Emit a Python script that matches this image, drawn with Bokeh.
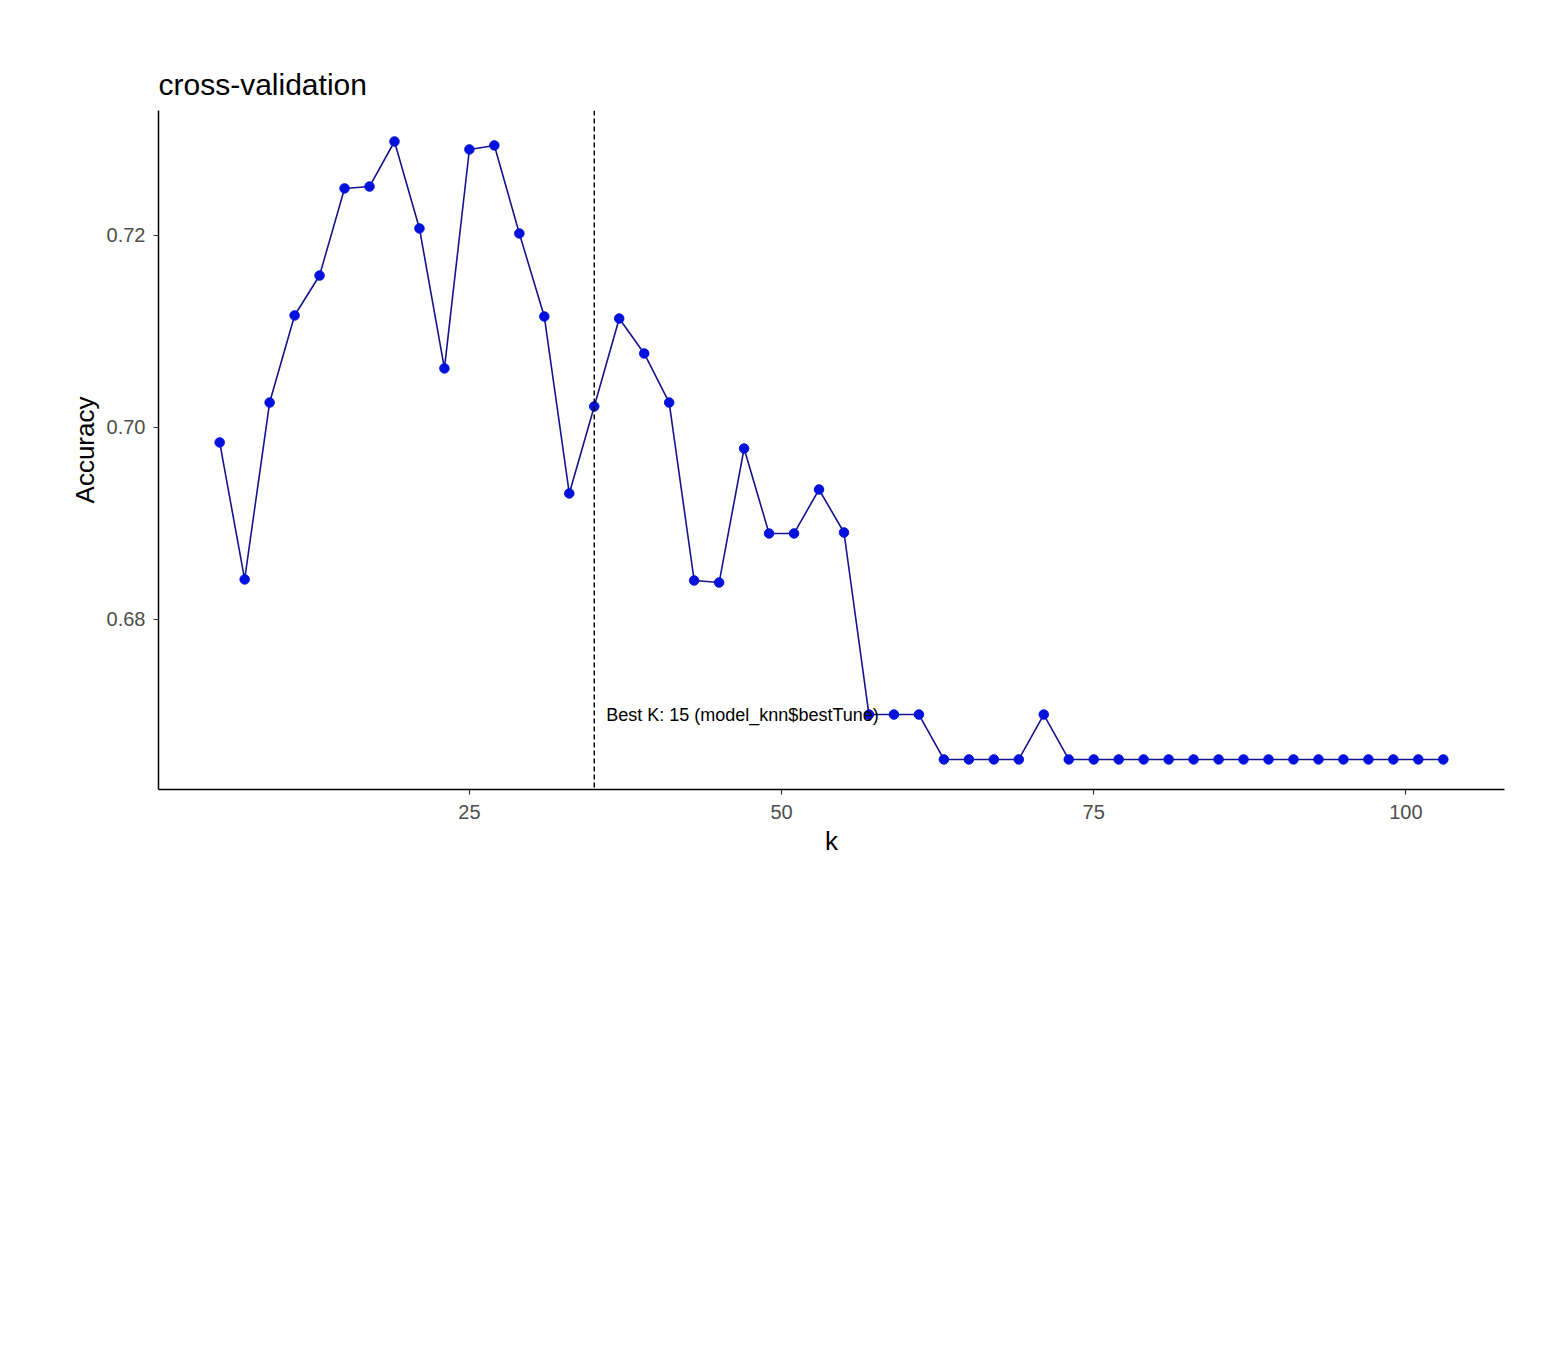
from bokeh.plotting import figure
from bokeh.models import Span, Label, FixedTicker, Range1d
from bokeh.embed import file_html
from bokeh.resources import INLINE

k_values = list(range(5, 104, 2))
accuracy = [
    0.69844, 0.68417, 0.70260, 0.71167, 0.71583, 0.72490, 0.72510, 0.72979,
    0.72073, 0.70615, 0.72896, 0.72938, 0.72021, 0.71156, 0.69313, 0.70219,
    0.71135, 0.70771, 0.70260, 0.68406, 0.68385, 0.69781, 0.68896, 0.68896,
    0.69354, 0.68906, 0.67010, 0.67010, 0.67010, 0.66542, 0.66542, 0.66542,
    0.66542, 0.67010, 0.66542, 0.66542, 0.66542, 0.66542, 0.66542, 0.66542,
    0.66542, 0.66542, 0.66542, 0.66542, 0.66542, 0.66542, 0.66542, 0.66542,
    0.66542, 0.66542,
]
best_k_line = 35
annotation_text = "Best K: 15 (model_knn$bestTune)"
annotation_y = 0.6701
x_ticks = [25, 50, 75, 100]
y_ticks = [0.68, 0.70, 0.72]

FONT = "Liberation Sans"

p = figure(
    frame_width=1346, frame_height=679,
    min_border_left=158, min_border_right=37,
    min_border_top=110, min_border_bottom=200,
    output_backend="svg", toolbar_location=None,
    title="cross-validation",
    x_range=Range1d(0.1, 107.9), y_range=Range1d(0.66229, 0.73302),
    x_axis_label="k", y_axis_label="Accuracy",
)

p.title.text_font = FONT
p.title.text_font_size = "30px"
p.title.text_font_style = "normal"
p.title.text_color = "black"
p.title.align = "left"
p.title.standoff = 20

p.outline_line_color = None
p.xgrid.grid_line_color = None
p.ygrid.grid_line_color = None

for ax in (p.xaxis[0], p.yaxis[0]):
    ax.axis_line_color = "black"
    ax.axis_line_width = 1.5
    ax.major_tick_line_color = "#333333"
    ax.major_tick_line_width = 1.2
    ax.major_tick_out = 5
    ax.major_tick_in = 0
    ax.minor_tick_line_color = None
    ax.major_label_text_font = FONT
    ax.major_label_text_font_size = "20px"
    ax.major_label_text_color = "#4D4D4D"
    ax.axis_label_text_font = FONT
    ax.axis_label_text_font_size = "26px"
    ax.axis_label_text_font_style = "normal"
    ax.axis_label_text_color = "black"

p.xaxis[0].ticker = FixedTicker(ticks=x_ticks)
p.yaxis[0].ticker = FixedTicker(ticks=y_ticks)
p.xaxis[0].major_label_standoff = 10
p.xaxis[0].axis_label_standoff = 4
p.yaxis[0].major_label_standoff = 8
p.yaxis[0].axis_label_standoff = 4
p.yaxis[0].major_label_overrides = {0.68: "0.68", 0.70: "0.70", 0.72: "0.72"}

p.line(k_values, accuracy, line_color="#14148f", line_width=1.6)
p.scatter(k_values, accuracy, size=9.5, fill_color="#0010dd", line_color="#0010dd")

span = Span(location=best_k_line, dimension="height", line_color="black",
            line_width=1.5, line_dash="5 3")
p.add_layout(span)

lbl = Label(x=best_k_line, y=annotation_y, text=annotation_text, x_offset=12,
            text_font=FONT, text_font_size="18px", text_color="black",
            text_baseline="middle", text_align="left")
p.add_layout(lbl)

open("out.html", "w").write(file_html(p, INLINE))
